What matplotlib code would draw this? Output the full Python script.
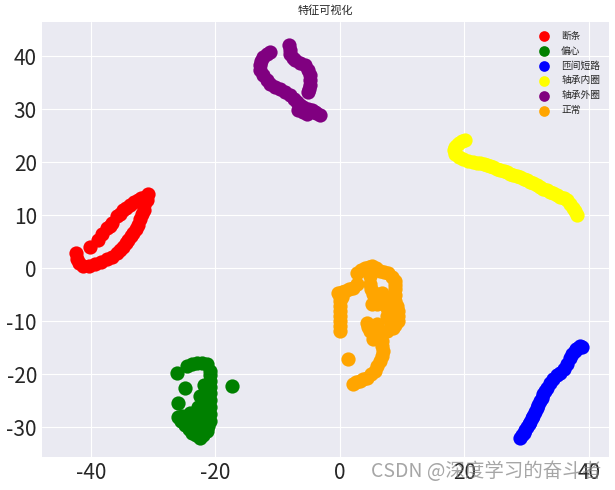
import matplotlib
matplotlib.use("Agg")
import matplotlib.pyplot as plt

plt.style.use("seaborn-v0_8-darkgrid")
plt.rcParams['font.family'] = ['Noto Sans CJK SC', 'DejaVu Sans']
plt.rcParams['axes.unicode_minus'] = False

labels = ["断条", "偏心", "匝间短路", "轴承内圈", "轴承外圈", "正常"]
colors = ["red", "green", "blue", "yellow", "purple", "orange"]

red_x = [-30.8, -31.3, -31.0, -31.5, -31.5, -31.8, -32.1, -32.4, -32.8, -33.3, -33.6, -34.0, -34.4, -34.9, -35.3,
         -35.8, -36.6, -37.4, -38.4, -39.4, -40.3, -41.3, -42.0, -42.2, -42.4,
         -32.0, -32.5, -33.1, -33.7, -34.3, -34.8, -35.3, -35.8, -36.6, -37.0, -37.4, -38.2, -38.9, -40.2]
red_y = [14.0, 13.5, 12.8, 12.0, 11.0, 10.3, 9.3, 8.2, 7.4, 6.6, 6.0, 5.4, 4.7, 4.1, 3.4,
         2.8, 2.2, 1.7, 1.2, 0.8, 0.5, 0.4, 1.0, 1.7, 2.8,
         13.2, 12.8, 12.4, 12.0, 11.4, 10.9, 10.3, 9.8, 8.6, 8.0, 7.5, 6.4, 5.4, 4.1]

green_x = [-24.6, -23.8, -23.0, -22.2, -21.4, -20.9, -20.9, -20.9, -20.9, -20.9, -20.9, -20.9, -20.9, -20.9,
           -21.2, -21.4, -22.0, -22.5, -23.2, -23.8, -24.3, -24.9, -25.5, -26.0, -25.4, -24.1, -23.0, -22.8,
           -22.0, -21.8, -22.2, -23.2, -22.5, -22.0, -23.5, -24.5, -22.5, -21.8,
           -26.2, -24.9, -26.0, -17.3]
green_y = [-18.4, -18.0, -17.8, -17.8, -18.0, -19.3, -20.2, -21.2, -22.4, -23.6, -24.9, -26.2, -27.4, -28.7,
           -29.8, -30.6, -31.4, -31.9, -31.5, -31.0, -30.3, -29.6, -28.8, -28.1, -27.8, -27.2, -28.1, -26.2,
           -25.0, -29.8, -30.5, -30.0, -28.5, -27.0, -29.0, -28.5, -24.0, -22.0,
           -19.7, -22.5, -25.3, -22.1]

blue_x = [28.9, 29.2, 29.5, 29.8, 30.0, 30.3, 30.5, 30.8, 31.0, 31.3, 31.6, 31.8, 32.1, 32.4, 32.7, 33.0,
          33.3, 33.8, 34.2, 34.8, 35.3, 36.0, 36.5, 36.9, 37.3, 37.7, 38.0, 38.6, 38.9, 38.3]
blue_y = [-31.9, -31.4, -31.0, -30.5, -30.0, -29.4, -28.9, -28.3, -27.8, -27.1, -26.4, -25.7, -25.0, -24.4, -23.7, -23.1,
          -22.5, -21.6, -20.8, -20.2, -19.7, -18.9, -18.0, -17.0, -16.1, -15.6, -15.3, -14.6, -14.8, -15.0]

yellow_x = [20.1, 19.6, 19.2, 18.8, 18.5, 18.4, 18.5, 19.1, 19.8, 20.6, 21.4, 22.0, 22.5, 23.1, 23.6, 24.1,
            24.6, 25.2, 25.7, 26.3, 26.8, 27.3, 27.8, 28.4, 28.9, 29.5, 30.0, 30.5, 31.0, 31.6, 32.1, 32.7,
            33.2, 33.7, 34.2, 34.8, 35.4, 36.0, 36.5, 37.0, 37.4, 37.8, 38.1]
yellow_y = [24.2, 24.0, 23.6, 23.3, 22.9, 22.2, 21.6, 21.0, 20.6, 20.3, 20.1, 19.9, 19.8, 19.7, 19.5, 19.3,
            19.1, 18.8, 18.6, 18.3, 18.1, 17.8, 17.6, 17.4, 17.2, 16.9, 16.7, 16.3, 16.0, 15.7, 15.4, 15.0,
            14.7, 14.4, 14.1, 13.8, 13.5, 13.2, 12.9, 12.1, 11.3, 10.7, 10.1]

purple_x = [-11.2, -11.8, -12.4, -12.7, -12.9, -12.9, -12.4, -11.8, -11.2, -10.4, -9.6, -8.8, -8.0, -7.4,
            -6.9, -6.4, -5.9, -5.2, -4.5, -3.8, -3.2, -6.7, -5.3, -4.0, -6.0,
            -8.2, -8.1, -8.0, -7.6, -7.2, -6.4, -5.6, -5.2, -4.8, -4.8, -4.8, -5.0, -5.1]
purple_y = [40.7, 40.3, 39.8, 39.0, 38.3, 37.3, 36.4, 35.5, 34.7, 34.2, 33.8, 33.2, 32.6, 31.9,
            31.3, 30.8, 30.4, 30.1, 29.8, 29.3, 28.9, 29.8, 29.1, 29.4, 29.5,
            42.0, 41.2, 40.3, 39.7, 39.2, 38.7, 38.3, 37.4, 36.4, 35.4, 34.5, 33.8, 33.2]

orange_x = [-0.3, 0.3, 0.8, 1.5, 2.1, 2.7, 0.0, 0.0, 0.0, 0.0, 0.0, 0.0, 0.0, 0.0, 0.4,
            2.7, 3.3, 4.0, 4.6, 5.1, 5.8, 6.4, 7.0, 7.7, 8.3, 8.8, 8.8, 8.8,
            4.8, 4.8, 5.0, 5.3, 6.0, 6.7, 6.7, 6.7, 5.9, 5.1,
            8.8, 8.8, 9.1, 9.3, 9.3, 9.3, 8.9, 8.5, 7.6, 6.5, 4.3, 4.5, 4.8, 5.3, 6.0, 6.7, 6.8, 6.9,
            6.7, 6.4, 6.0, 5.6, 5.0, 4.3, 3.7, 3.2, 2.6, 2.1,
            7.5, 8.0, 6.0, 7.5, 1.3]
orange_y = [-4.7, -4.5, -4.3, -4.0, -3.8, -3.0, -5.5, -6.2, -7.1, -8.1, -9.0, -9.9, -10.8, -11.8, -5.5,
            -0.9, -0.4, 0.0, 0.2, 0.4, 0.0, -0.6, -0.7, -0.9, -1.6, -2.4, -3.1, -3.9,
            -1.5, -3.0, -4.0, -4.9, -4.8, -4.7, -5.6, -6.6, -6.7, -6.8,
            -5.0, -6.2, -7.1, -8.1, -9.0, -9.9, -10.6, -11.3, -11.8, -12.0, -10.3, -11.0, -11.8, -13.3, -12.8, -13.7, -14.6, -15.6,
            -16.5, -17.4, -18.4, -19.3, -20.0, -20.6, -20.9, -21.2, -21.5, -21.8,
            -9.0, -10.0, -10.5, -7.5, -17.1]

series_x = [red_x, green_x, blue_x, yellow_x, purple_x, orange_x]
series_y = [red_y, green_y, blue_y, yellow_y, purple_y, orange_y]

fig = plt.figure(figsize=(6.15, 4.9), dpi=100)
ax = fig.add_axes([0.068, 0.067, 0.922, 0.888])
for xs, ys, c, lab in zip(series_x, series_y, colors, labels):
    ax.scatter(xs, ys, s=105, c=c, label=lab, linewidths=0)

ax.set_xlim(-47.9, 43.2)
ax.set_ylim(-35.6, 46.4)
ax.set_xticks([-40, -20, 0, 20, 40])
ax.set_yticks([-30, -20, -10, 0, 10, 20, 30, 40])
ax.tick_params(labelsize=15)
ax.set_title("特征可视化", fontsize=8)
leg = ax.legend(loc="upper right", fontsize=7, markerscale=0.75, frameon=False)

fig.text(0.978, 0.037, "CSDN @深度学习的奋斗者", ha="right", va="center",
         fontsize=14, color="gray", alpha=0.7)

fig.savefig("out.png", dpi=100)
